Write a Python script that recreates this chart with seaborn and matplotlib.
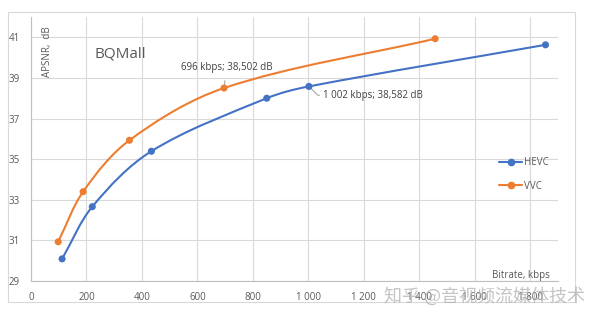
import numpy as np
import matplotlib.pyplot as plt
import seaborn as sns
import pandas as pd
from matplotlib.path import Path
from matplotlib.patches import PathPatch, Rectangle
from matplotlib.lines import Line2D

# -----------------------------
# Data
# -----------------------------
hevc_kbps = [112, 221, 434, 850, 1002, 1855]
hevc_db = [30.09, 32.66, 35.39, 38.00, 38.582, 40.63]
vvc_kbps = [98, 188, 355, 696, 1457]
vvc_db = [30.93, 33.40, 35.93, 38.502, 40.93]

codecs = ["HEVC", "VVC"]
palette = {"HEVC": "#4472C4", "VVC": "#ED7D31"}

x_ticks = [0, 200, 400, 600, 800, 1000, 1200, 1400, 1600, 1800]
x_tick_labels = ["0", "200", "400", "600", "800", "1 000", "1 200", "1 400", "1 600", "1 800"]
y_ticks = [29, 31, 33, 35, 37, 39, 41]

X_MAX, Y_MIN, Y_MAX = 1900, 29, 42
AX_W_PX, AX_H_PX = 527, 264

df = pd.concat([
    pd.DataFrame({"kbps": hevc_kbps, "db": hevc_db, "codec": "HEVC"}),
    pd.DataFrame({"kbps": vvc_kbps, "db": vvc_db, "codec": "VVC"}),
])


def smooth_path(xs, ys):
    # smoothed line: chord-length Catmull-Rom as cubic Beziers (in screen-ish units)
    sx, sy = AX_W_PX / X_MAX, AX_H_PX / (Y_MAX - Y_MIN)
    pts = np.column_stack([np.asarray(xs, float) * sx, np.asarray(ys, float) * sy])
    ext = np.vstack([pts[0], pts, pts[-1]])
    verts = [pts[0]]
    codes = [Path.MOVETO]
    for i in range(len(pts) - 1):
        p0, p1, p2, p3 = ext[i], ext[i + 1], ext[i + 2], ext[i + 3]
        d01, d12, d23 = (np.linalg.norm(p1 - p0), np.linalg.norm(p2 - p1),
                         np.linalg.norm(p3 - p2))
        m1 = (p2 - p0) / (d01 + d12)
        m2 = (p3 - p1) / (d12 + d23)
        verts += [p1 + m1 * d12 / 3, p2 - m2 * d12 / 3, p2]
        codes += [Path.CURVE4] * 3
    verts = np.array(verts) / np.array([sx, sy])
    return Path(verts, codes)


# -----------------------------
# Plot
# -----------------------------
sns.set_style("whitegrid")
plt.rcParams["font.family"] = ["Open Sans", "DejaVu Sans"]

fig = plt.figure(figsize=(6, 3.19), dpi=100)
ax = fig.add_axes([31 / 600, 1 - 281 / 319, AX_W_PX / 600, AX_H_PX / 319])

for codec in codecs:
    sub = df[df["codec"] == codec]
    ax.add_patch(PathPatch(smooth_path(sub["kbps"], sub["db"]), facecolor="none",
                           edgecolor=palette[codec], linewidth=1.5, zorder=3))

sns.scatterplot(data=df, x="kbps", y="db", hue="codec", palette=palette,
                s=26, edgecolor=None, linewidth=0, legend=False, ax=ax, zorder=4)

ax.set_xlim(0, X_MAX)
ax.set_ylim(Y_MIN, Y_MAX)
ax.set_xticks(x_ticks)
ax.set_xticklabels(x_tick_labels)
ax.set_yticks(y_ticks)
ax.set_xlabel("")
ax.set_ylabel("")
ax.tick_params(axis="both", length=0, labelsize=7, colors="#595959")
ax.tick_params(axis="x", pad=8)
ax.tick_params(axis="y", pad=8)
ax.grid(True, color="#d9d9d9", linewidth=0.8)

for side in ["top", "right"]:
    ax.spines[side].set_visible(False)
for side in ["left", "bottom"]:
    ax.spines[side].set_color("#bfbfbf")
    ax.spines[side].set_linewidth(0.8)

# Axis titles and chart title inside the plot area
ax.text(0.031, 0.965, "APSNR,  dB", transform=ax.transAxes, rotation=90,
        ha="center", va="top", fontsize=7, color="#595959")
ax.text(0.12, 0.86, "BQMall", transform=ax.transAxes, ha="left", va="center",
        fontsize=11, color="#595959")
ax.text(0.985, 0.0, "Bitrate, kbps", transform=ax.transAxes, ha="right",
        va="bottom", fontsize=7, color="#595959")

# Data labels
ax.annotate("696 kbps; 38,502 dB", xy=(696, 38.502), xytext=(705, 39.5),
            ha="center", va="center", fontsize=7, color="#404040",
            arrowprops=dict(arrowstyle="-", color="#a6a6a6", lw=0.8,
                            shrinkA=3, shrinkB=2))
ax.annotate("1 002 kbps; 38,582 dB", xy=(1002, 38.582), xytext=(1052, 38.15),
            ha="left", va="center", fontsize=7, color="#404040",
            arrowprops=dict(arrowstyle="-", color="#a6a6a6", lw=0.8,
                            shrinkA=0, shrinkB=2,
                            connectionstyle="angle,angleA=0,angleB=-45,rad=0"))

# Legend
handles = [Line2D([0], [0], color=palette[c], lw=1.5, marker="o", markersize=4.5)
           for c in codecs]
fig.legend(handles, codecs, loc="center left", bbox_to_anchor=(494 / 600, 1 - 174.5 / 319),
           frameon=False, fontsize=7, labelcolor="#595959", handlelength=2.4,
           handletextpad=0.2, labelspacing=1.25, borderpad=0)

# Outer chart border
fig.patches.append(Rectangle((8 / 600, 1 - 302 / 319), 567 / 600, 290 / 319,
                             transform=fig.transFigure, fill=False,
                             edgecolor="#d9d9d9", linewidth=0.8))

# Watermark
fig.text(484 / 600, 1 - 296 / 319, "知乎 @音视频流媒体技术", ha="center", va="center",
         fontsize=13, color="#b0b0b0", alpha=0.75,
         family=["Noto Sans CJK SC", "DejaVu Sans"])

fig.savefig("out.png", dpi=100)
